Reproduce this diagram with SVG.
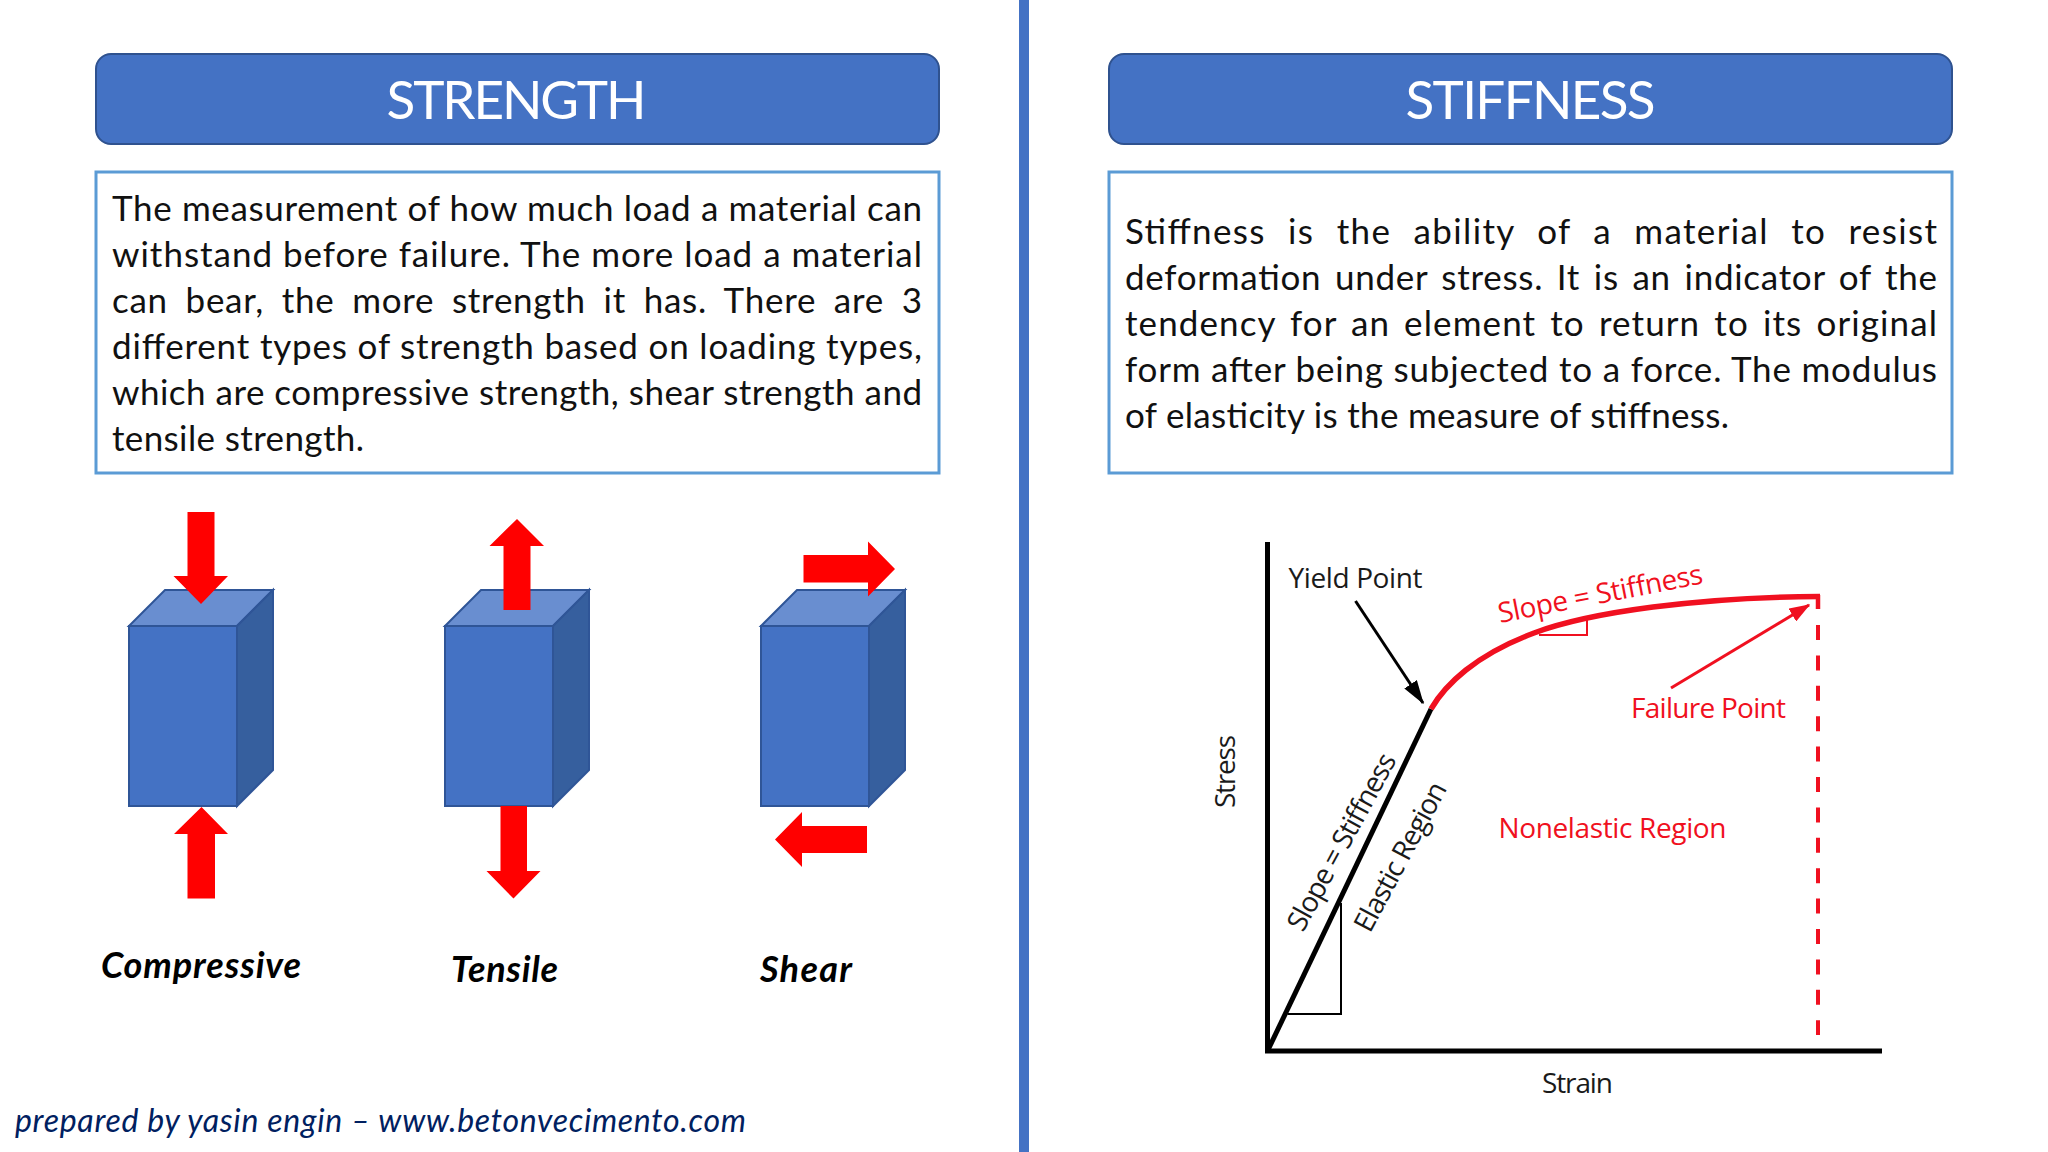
<svg xmlns="http://www.w3.org/2000/svg" width="2048" height="1152" viewBox="0 0 2048 1152">
<style>
.hd{fill:#4472c4;stroke:#2f528f;stroke-width:2}
.box{fill:#fff;stroke:#5b9bd5;stroke-width:3}
.ht{font:53px Lato,"Liberation Sans",sans-serif;fill:#fff;text-anchor:middle}
.bt{font:35px Lato,"Liberation Sans",sans-serif;fill:#111}
.f{fill:#4472c4;stroke:#2f5597;stroke-width:2}
.t{fill:#698ed0;stroke:#2f5597;stroke-width:2}
.s{fill:#365f9e;stroke:#2f5597;stroke-width:2}
.ar{fill:#f00}
.lb{font:italic 700 36px Lato,"Liberation Sans",sans-serif;fill:#000}
.g{font:28px "Open Sans","Liberation Sans",sans-serif;fill:#1a1a1a}
.r{fill:#f01020}
</style>
<defs>
<marker id="ak" markerWidth="8" markerHeight="5" refX="7.500" refY="2.500" orient="auto" markerUnits="strokeWidth"><path d="M0 0L8 2.500L0 5z" fill="#000"/></marker>
<marker id="ar" markerWidth="7" markerHeight="5" refX="6.500" refY="2.500" orient="auto" markerUnits="strokeWidth"><path d="M0 0L7 2.500L0 5z" fill="#f01020"/></marker>
</defs>
<rect width="2048" height="1152" fill="#fff"/>
<rect id="divider" x="1019" y="0" width="10" height="1152" fill="#4472c4"/>
<g id="strength-header"><rect class="hd" x="96" y="54" width="843" height="90" rx="15"/><text class="ht" x="516.500" y="119" textLength="260">STRENGTH</text></g>
<g id="strength-text"><rect class="box" x="96" y="172" width="843" height="301"/>
<text class="bt" x="112" y="221" textLength="810">The measurement of how much load a material can</text>
<text class="bt" x="112" y="267" textLength="810">withstand before failure. The more load a material</text>
<text class="bt" x="112" y="313" textLength="810" word-spacing="8">can bear, the more strength it has. There are 3</text>
<text class="bt" x="112" y="359" textLength="810">different types of strength based on loading types,</text>
<text class="bt" x="112" y="405" textLength="810">which are compressive strength, shear strength and</text>
<text class="bt" x="112" y="451" textLength="252">tensile strength.</text></g>
<g id="stiffness-header"><rect class="hd" x="1109" y="54" width="843" height="90" rx="15"/><text class="ht" x="1530.500" y="119" textLength="250">STIFFNESS</text></g>
<g id="stiffness-text"><rect class="box" x="1109" y="172" width="843" height="301"/>
<text class="bt" x="1125" y="244" textLength="812" word-spacing="12">Stiffness is the ability of a material to resist</text>
<text class="bt" x="1125" y="290" textLength="812" word-spacing="4">deformation under stress. It is an indicator of the</text>
<text class="bt" x="1125" y="336" textLength="812" word-spacing="4">tendency for an element to return to its original</text>
<text class="bt" x="1125" y="382" textLength="812">form after being subjected to a force. The modulus</text>
<text class="bt" x="1125" y="428" textLength="604">of elasticity is the measure of stiffness.</text></g>
<g id="compressive"><path class="f" d="M129 626H237V806H129z"/><path class="t" d="M129 626L165 590H273L237 626z"/><path class="s" d="M237 626L273 590V770L237 806z"/>
<path class="ar" d="M187.500 512H214.500V576H228L201 604L173.500 576H187.500z"/><path class="ar" d="M201.500 807L228 834H215V898.500H187.500V834H174z"/>
<text class="lb" x="101" y="978" textLength="200">Compressive</text></g>
<g id="tensile"><path class="f" d="M445 626H553V806H445z"/><path class="t" d="M445 626L481 590H589L553 626z"/><path class="s" d="M553 626L589 590V770L553 806z"/>
<path class="ar" d="M517 519L544 546H530.500V610H503.500V546H489.500z"/><path class="ar" d="M500.500 806H527V871H540.500L513.500 898.500L486.500 871H500.500z"/>
<text class="lb" x="451" y="982" textLength="107">Tensile</text></g>
<g id="shear"><path class="f" d="M761 626H869V806H761z"/><path class="t" d="M761 626L797 590H905L869 626z"/><path class="s" d="M869 626L905 590V770L869 806z"/>
<path class="ar" d="M803.500 555H868V541.500L895 569L868 596.500V582.500H803.500z"/><path class="ar" d="M775 839.500L802 812V826H867V853H802V867z"/>
<text class="lb" x="760" y="982" textLength="92">Shear</text></g>
<g id="graph-connectors" fill="none">
<path d="M1267.500 542V1053M1265 1051H1882" stroke="#000" stroke-width="5"/>
<path d="M1268 1050L1431 709" stroke="#000" stroke-width="5"/>
<path d="M1287.500 1014H1341V903" stroke="#000" stroke-width="2"/>
<path d="M1431 709C1445 685 1475 655 1534 633C1590 612 1700 597 1820 596.500" stroke="#f01020" stroke-width="5.500"/>
<path d="M1539 635H1587V620" stroke="#f01020" stroke-width="2"/>
<path d="M1818 595V609" stroke="#f01020" stroke-width="4.500"/>
<path d="M1818 625V1035" stroke="#f01020" stroke-width="4" stroke-dasharray="15 15.400"/>
<path d="M1355.500 601L1423 703" stroke="#000" stroke-width="3" marker-end="url(#ak)"/>
<path d="M1671 688L1809 605" stroke="#f01020" stroke-width="3" marker-end="url(#ar)"/>
</g>
<g id="graph-labels">
<text class="g" x="1288.500" y="588" textLength="134">Yield Point</text>
<text class="g r" transform="translate(1500 623) rotate(-11)" textLength="208">Slope = Stiffness</text>
<text class="g r" x="1631" y="718" textLength="155">Failure Point</text>
<text class="g r" x="1498.500" y="838" textLength="228">Nonelastic Region</text>
<text class="g" x="1542" y="1093" textLength="71">Strain</text>
<text class="g" transform="translate(1235 808) rotate(-90)" textLength="73">Stress</text>
<text class="g" transform="translate(1303 933) rotate(-61.500)" textLength="197">Slope = Stiffness</text>
<text class="g" transform="translate(1370 934) rotate(-62)" textLength="165">Elastic Region</text>
</g>
<text id="credit" x="15" y="1132" font-family="Lato,'Liberation Sans',sans-serif" font-style="italic" font-size="32" fill="#002060" textLength="731">prepared by yasin engin – www.betonvecimento.com</text>
</svg>
